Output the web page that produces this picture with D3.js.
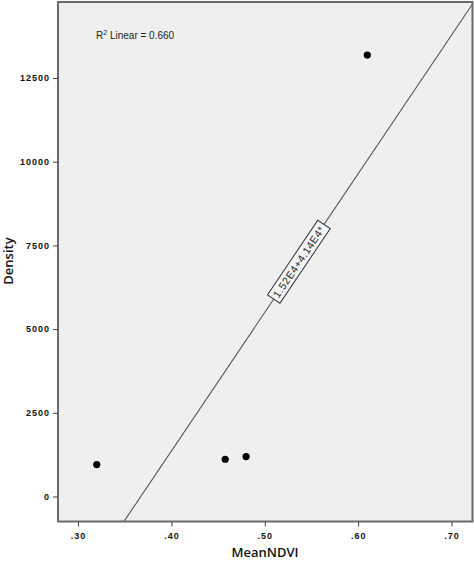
<!DOCTYPE html>
<html><head><meta charset="utf-8">
<script src="https://cdn.jsdelivr.net/npm/d3@7"></script>
<style>
html,body{margin:0;padding:0;background:#fff;}
svg{display:block;}
</style></head>
<body>
<svg id="chart" width="474" height="562"></svg>
<script>
// Data
const meanNDVI = [0.320, 0.4576, 0.480, 0.6098];
const density = [955, 1113, 1193, 13186];
const xTicks = [0.30, 0.40, 0.50, 0.60, 0.70];
const xTickLabels = [".30", ".40", ".50", ".60", ".70"];
const yTicks = [0, 2500, 5000, 7500, 10000, 12500];
const yTickLabels = ["0", "2500", "5000", "7500", "10000", "12500"];
const fitIntercept = -15200;
const fitSlope = 41400;
const r2Label = "0.660";
const fitLabel = "1.52E4+4.14E4*";

const svg = d3.select("#chart");
const L = 58, R = 472.5, T = 2, B = 521.5;
const x = d3.scaleLinear().domain([0.2785, 0.7225]).range([L, R]);
const y = d3.scaleLinear().domain([0, 12500]).range([496.5, 78]);

// plot background
svg.append("rect").attr("x", L).attr("y", T).attr("width", R - L).attr("height", B - T)
  .attr("fill", "#efefef");

// clip
svg.append("clipPath").attr("id", "clip").append("rect")
  .attr("x", L).attr("y", T).attr("width", R - L).attr("height", B - T);

// fit line
const x0 = x.domain()[0], x1 = x.domain()[1];
svg.append("line").attr("clip-path", "url(#clip)")
  .attr("x1", x(x0)).attr("y1", y(fitIntercept + fitSlope * x0))
  .attr("x2", x(x1)).attr("y2", y(fitIntercept + fitSlope * x1))
  .attr("stroke", "#555").attr("stroke-width", 1.1);

// fit label box
const lx = 0.5365, ly = fitIntercept + fitSlope * lx;
const ang = Math.atan2(y(fitIntercept + fitSlope * 0.6) - y(fitIntercept + fitSlope * 0.5), x(0.6) - x(0.5)) * 180 / Math.PI;
const g = svg.append("g").attr("transform", `translate(${x(lx)},${y(ly)}) rotate(${ang})`);
g.append("rect").attr("x", -45).attr("y", -7.5).attr("width", 90).attr("height", 15)
  .attr("fill", "#f4f4f4").attr("stroke", "#333").attr("stroke-width", 1);
g.append("text").attr("x", 0).attr("y", 3.8).attr("text-anchor", "middle")
  .attr("font-family", "Liberation Sans, Arial, sans-serif").attr("font-size", 10.5)
  .attr("letter-spacing", 0.5).attr("fill", "#222").text(fitLabel);

// points
svg.append("g").selectAll("circle").data(meanNDVI).join("circle")
  .attr("cx", (d) => x(d)).attr("cy", (d, i) => y(density[i])).attr("r", 3.6).attr("fill", "#000");

// R2 label
const rt = svg.append("text").attr("x", 96).attr("y", 39)
  .attr("font-family", "Liberation Sans, Arial, sans-serif").attr("font-size", 10).attr("fill", "#222");
rt.append("tspan").text("R");
rt.append("tspan").attr("font-size", 7).attr("dy", -4).text("2");
rt.append("tspan").attr("dy", 4).text(" Linear = " + r2Label);

// frame
svg.append("rect").attr("x", L).attr("y", T).attr("width", R - L).attr("height", B - T)
  .attr("fill", "none").attr("stroke", "#6a6a6a").attr("stroke-width", 2);

// axes
const xAxis = d3.axisBottom(x).tickValues(xTicks).tickFormat((d, i) => xTickLabels[i]).tickSize(5).tickPadding(4);
const gx = svg.append("g").attr("transform", `translate(0,${B})`).call(xAxis);
gx.select(".domain").remove();
gx.selectAll("line").attr("stroke", "#444");
gx.selectAll("text").attr("font-family", "Liberation Sans, Arial, sans-serif").attr("font-size", 9)
  .attr("font-weight", "bold").attr("letter-spacing", 1).attr("fill", "#111").attr("dy", "0.9em");

const yAxis = d3.axisLeft(y).tickValues(yTicks).tickFormat((d, i) => yTickLabels[i]).tickSize(5).tickPadding(3);
const gy = svg.append("g").attr("transform", `translate(${L},0)`).call(yAxis);
gy.select(".domain").remove();
gy.selectAll("line").attr("stroke", "#444");
gy.selectAll("text").attr("font-family", "Liberation Sans, Arial, sans-serif").attr("font-size", 9)
  .attr("font-weight", "bold").attr("letter-spacing", 1).attr("fill", "#111");

// axis titles
svg.append("text").attr("x", 265).attr("y", 557).attr("text-anchor", "middle")
  .attr("font-family", "Open Sans, DejaVu Sans, sans-serif").attr("font-size", 13).attr("font-weight", 600)
  .attr("fill", "#111").text("MeanNDVI");
svg.append("text").attr("transform", "translate(13,261) rotate(-90)").attr("text-anchor", "middle")
  .attr("font-family", "Open Sans, DejaVu Sans, sans-serif").attr("font-size", 13).attr("font-weight", 600)
  .attr("fill", "#111").text("Density");
</script>
</body></html>
